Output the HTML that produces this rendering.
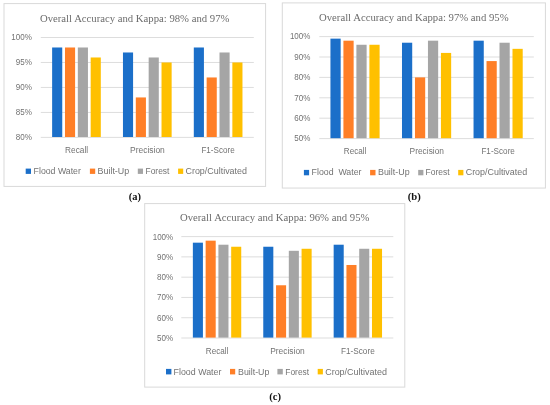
<!DOCTYPE html>
<html lang="en"><head><meta charset="utf-8"><title>Accuracy charts</title>
<style>
html,body{margin:0;padding:0;background:#fff;}
body{width:550px;height:405px;overflow:hidden;}
svg{display:block;}
</style></head><body>
<svg width="550" height="405" viewBox="0 0 550 405">
<rect width="550" height="405" fill="#fff"/>
<rect x="4" y="3.6" width="261.6" height="182.8" fill="#fff" stroke="#d9d9d9" stroke-width="1"/>
<text x="40" y="21.7" font-family='"Liberation Serif", serif' font-size="10.8" fill="#6c6c6c" textLength="189.4" lengthAdjust="spacingAndGlyphs">Overall Accuracy and Kappa: 98% and 97%</text>
<line x1="40.8" y1="137.4" x2="253.8" y2="137.4" stroke="#d9d9d9" stroke-width="0.9"/>
<text x="15.7" y="139.7" font-family='"Liberation Sans", sans-serif' font-size="8.3" fill="#727272" textLength="16.1" lengthAdjust="spacingAndGlyphs">80%</text>
<line x1="40.8" y1="112.43" x2="253.8" y2="112.43" stroke="#d9d9d9" stroke-width="0.9"/>
<text x="15.7" y="114.73" font-family='"Liberation Sans", sans-serif' font-size="8.3" fill="#727272" textLength="16.1" lengthAdjust="spacingAndGlyphs">85%</text>
<line x1="40.8" y1="87.45" x2="253.8" y2="87.45" stroke="#d9d9d9" stroke-width="0.9"/>
<text x="15.7" y="89.75" font-family='"Liberation Sans", sans-serif' font-size="8.3" fill="#727272" textLength="16.1" lengthAdjust="spacingAndGlyphs">90%</text>
<line x1="40.8" y1="62.47" x2="253.8" y2="62.47" stroke="#d9d9d9" stroke-width="0.9"/>
<text x="15.7" y="64.77" font-family='"Liberation Sans", sans-serif' font-size="8.3" fill="#727272" textLength="16.1" lengthAdjust="spacingAndGlyphs">95%</text>
<line x1="40.8" y1="37.5" x2="253.8" y2="37.5" stroke="#d9d9d9" stroke-width="0.9"/>
<text x="11.3" y="39.8" font-family='"Liberation Sans", sans-serif' font-size="8.3" fill="#727272" textLength="20.5" lengthAdjust="spacingAndGlyphs">100%</text>
<rect x="52.13" y="47.49" width="10.12" height="89.51" fill="#1b6fc9"/>
<rect x="64.98" y="47.49" width="10.12" height="89.51" fill="#ff7f27"/>
<rect x="77.83" y="47.49" width="10.12" height="89.51" fill="#a5a5a5"/>
<rect x="90.68" y="57.48" width="10.12" height="79.52" fill="#ffc000"/>
<rect x="122.96" y="52.48" width="10.12" height="84.52" fill="#1b6fc9"/>
<rect x="135.81" y="97.44" width="10.12" height="39.56" fill="#ff7f27"/>
<rect x="148.67" y="57.48" width="10.12" height="79.52" fill="#a5a5a5"/>
<rect x="161.52" y="62.47" width="10.12" height="74.53" fill="#ffc000"/>
<rect x="193.8" y="47.49" width="10.12" height="89.51" fill="#1b6fc9"/>
<rect x="206.65" y="77.46" width="10.12" height="59.54" fill="#ff7f27"/>
<rect x="219.5" y="52.48" width="10.12" height="84.52" fill="#a5a5a5"/>
<rect x="232.35" y="62.47" width="10.12" height="74.53" fill="#ffc000"/>
<text x="65.1" y="153" font-family='"Liberation Sans", sans-serif' font-size="8.3" fill="#727272" textLength="23" lengthAdjust="spacingAndGlyphs">Recall</text>
<text x="130" y="153" font-family='"Liberation Sans", sans-serif' font-size="8.3" fill="#727272" textLength="34.8" lengthAdjust="spacingAndGlyphs">Precision</text>
<text x="201.4" y="153" font-family='"Liberation Sans", sans-serif' font-size="8.3" fill="#727272" textLength="33.4" lengthAdjust="spacingAndGlyphs">F1-Score</text>
<rect x="25.7" y="168.6" width="5.3" height="5.3" fill="#1b6fc9"/>
<text x="33.6" y="173.9" font-family='"Liberation Sans", sans-serif' font-size="8.7" fill="#727272" textLength="47.3" lengthAdjust="spacingAndGlyphs" xml:space="preserve" style="white-space:pre">Flood Water</text>
<rect x="89.9" y="168.6" width="5.3" height="5.3" fill="#ff7f27"/>
<text x="97.6" y="173.9" font-family='"Liberation Sans", sans-serif' font-size="8.7" fill="#727272" textLength="31.6" lengthAdjust="spacingAndGlyphs" xml:space="preserve" style="white-space:pre">Built-Up</text>
<rect x="137.8" y="168.6" width="5.2" height="5.3" fill="#a5a5a5"/>
<text x="145.5" y="173.9" font-family='"Liberation Sans", sans-serif' font-size="8.7" fill="#727272" textLength="23.9" lengthAdjust="spacingAndGlyphs" xml:space="preserve" style="white-space:pre">Forest</text>
<rect x="178.1" y="168.6" width="5.1" height="5.3" fill="#ffc000"/>
<text x="185.5" y="173.9" font-family='"Liberation Sans", sans-serif' font-size="8.7" fill="#727272" textLength="61.5" lengthAdjust="spacingAndGlyphs" xml:space="preserve" style="white-space:pre">Crop/Cultivated</text>
<text x="128.8" y="199.8" font-family='"Liberation Serif", serif' font-size="10.7" font-weight="bold" fill="#111" textLength="12.2" lengthAdjust="spacingAndGlyphs">(a)</text>
<rect x="282.3" y="2.9" width="263.1" height="185.15" fill="#fff" stroke="#d9d9d9" stroke-width="1"/>
<text x="319" y="20.9" font-family='"Liberation Serif", serif' font-size="10.8" fill="#6c6c6c" textLength="189.6" lengthAdjust="spacingAndGlyphs">Overall Accuracy and Kappa: 97% and 95%</text>
<line x1="319.3" y1="138.6" x2="533.8" y2="138.6" stroke="#d9d9d9" stroke-width="0.9"/>
<text x="294.3" y="141.4" font-family='"Liberation Sans", sans-serif' font-size="8.3" fill="#727272" textLength="16.1" lengthAdjust="spacingAndGlyphs">50%</text>
<line x1="319.3" y1="118.2" x2="533.8" y2="118.2" stroke="#d9d9d9" stroke-width="0.9"/>
<text x="294.3" y="121" font-family='"Liberation Sans", sans-serif' font-size="8.3" fill="#727272" textLength="16.1" lengthAdjust="spacingAndGlyphs">60%</text>
<line x1="319.3" y1="97.8" x2="533.8" y2="97.8" stroke="#d9d9d9" stroke-width="0.9"/>
<text x="294.3" y="100.6" font-family='"Liberation Sans", sans-serif' font-size="8.3" fill="#727272" textLength="16.1" lengthAdjust="spacingAndGlyphs">70%</text>
<line x1="319.3" y1="77.4" x2="533.8" y2="77.4" stroke="#d9d9d9" stroke-width="0.9"/>
<text x="294.3" y="80.2" font-family='"Liberation Sans", sans-serif' font-size="8.3" fill="#727272" textLength="16.1" lengthAdjust="spacingAndGlyphs">80%</text>
<line x1="319.3" y1="57" x2="533.8" y2="57" stroke="#d9d9d9" stroke-width="0.9"/>
<text x="294.3" y="59.8" font-family='"Liberation Sans", sans-serif' font-size="8.3" fill="#727272" textLength="16.1" lengthAdjust="spacingAndGlyphs">90%</text>
<line x1="319.3" y1="36.6" x2="533.8" y2="36.6" stroke="#d9d9d9" stroke-width="0.9"/>
<text x="289.9" y="39.4" font-family='"Liberation Sans", sans-serif' font-size="8.3" fill="#727272" textLength="20.5" lengthAdjust="spacingAndGlyphs">100%</text>
<rect x="330.44" y="38.64" width="10.22" height="99.56" fill="#1b6fc9"/>
<rect x="343.42" y="40.68" width="10.22" height="97.52" fill="#ff7f27"/>
<rect x="356.4" y="44.76" width="10.22" height="93.44" fill="#a5a5a5"/>
<rect x="369.39" y="44.76" width="10.22" height="93.44" fill="#ffc000"/>
<rect x="401.99" y="42.72" width="10.22" height="95.48" fill="#1b6fc9"/>
<rect x="414.97" y="77.4" width="10.22" height="60.8" fill="#ff7f27"/>
<rect x="427.95" y="40.68" width="10.22" height="97.52" fill="#a5a5a5"/>
<rect x="440.94" y="52.92" width="10.22" height="85.28" fill="#ffc000"/>
<rect x="473.54" y="40.68" width="10.22" height="97.52" fill="#1b6fc9"/>
<rect x="486.52" y="61.08" width="10.22" height="77.12" fill="#ff7f27"/>
<rect x="499.5" y="42.72" width="10.22" height="95.48" fill="#a5a5a5"/>
<rect x="512.49" y="48.84" width="10.22" height="89.36" fill="#ffc000"/>
<text x="343.8" y="154" font-family='"Liberation Sans", sans-serif' font-size="8.3" fill="#727272" textLength="22.6" lengthAdjust="spacingAndGlyphs">Recall</text>
<text x="409.6" y="154" font-family='"Liberation Sans", sans-serif' font-size="8.3" fill="#727272" textLength="34.4" lengthAdjust="spacingAndGlyphs">Precision</text>
<text x="481.4" y="154" font-family='"Liberation Sans", sans-serif' font-size="8.3" fill="#727272" textLength="33.5" lengthAdjust="spacingAndGlyphs">F1-Score</text>
<rect x="303.9" y="169.9" width="5.2" height="5.4" fill="#1b6fc9"/>
<text x="311.6" y="175.3" font-family='"Liberation Sans", sans-serif' font-size="8.7" fill="#727272" textLength="49.9" lengthAdjust="spacingAndGlyphs" xml:space="preserve" style="white-space:pre">Flood  Water</text>
<rect x="370.1" y="169.9" width="5.4" height="5.4" fill="#ff7f27"/>
<text x="378" y="175.3" font-family='"Liberation Sans", sans-serif' font-size="8.7" fill="#727272" textLength="31.6" lengthAdjust="spacingAndGlyphs" xml:space="preserve" style="white-space:pre">Built-Up</text>
<rect x="418.2" y="169.9" width="5.2" height="5.4" fill="#a5a5a5"/>
<text x="425.5" y="175.3" font-family='"Liberation Sans", sans-serif' font-size="8.7" fill="#727272" textLength="24.1" lengthAdjust="spacingAndGlyphs" xml:space="preserve" style="white-space:pre">Forest</text>
<rect x="458.2" y="169.9" width="5.2" height="5.4" fill="#ffc000"/>
<text x="465.7" y="175.3" font-family='"Liberation Sans", sans-serif' font-size="8.7" fill="#727272" textLength="61.5" lengthAdjust="spacingAndGlyphs" xml:space="preserve" style="white-space:pre">Crop/Cultivated</text>
<text x="407.7" y="199.5" font-family='"Liberation Serif", serif' font-size="10.7" font-weight="bold" fill="#111" textLength="13" lengthAdjust="spacingAndGlyphs">(b)</text>
<rect x="144.7" y="203.6" width="260.1" height="183.5" fill="#fff" stroke="#d9d9d9" stroke-width="1"/>
<text x="180" y="220.9" font-family='"Liberation Serif", serif' font-size="10.8" fill="#6c6c6c" textLength="189.4" lengthAdjust="spacingAndGlyphs">Overall Accuracy and Kappa: 96% and 95%</text>
<line x1="181.3" y1="338" x2="393.3" y2="338" stroke="#d9d9d9" stroke-width="0.9"/>
<text x="157.1" y="340.9" font-family='"Liberation Sans", sans-serif' font-size="8.3" fill="#727272" textLength="16.1" lengthAdjust="spacingAndGlyphs">50%</text>
<line x1="181.3" y1="317.72" x2="393.3" y2="317.72" stroke="#d9d9d9" stroke-width="0.9"/>
<text x="157.1" y="320.62" font-family='"Liberation Sans", sans-serif' font-size="8.3" fill="#727272" textLength="16.1" lengthAdjust="spacingAndGlyphs">60%</text>
<line x1="181.3" y1="297.44" x2="393.3" y2="297.44" stroke="#d9d9d9" stroke-width="0.9"/>
<text x="157.1" y="300.34" font-family='"Liberation Sans", sans-serif' font-size="8.3" fill="#727272" textLength="16.1" lengthAdjust="spacingAndGlyphs">70%</text>
<line x1="181.3" y1="277.16" x2="393.3" y2="277.16" stroke="#d9d9d9" stroke-width="0.9"/>
<text x="157.1" y="280.06" font-family='"Liberation Sans", sans-serif' font-size="8.3" fill="#727272" textLength="16.1" lengthAdjust="spacingAndGlyphs">80%</text>
<line x1="181.3" y1="256.88" x2="393.3" y2="256.88" stroke="#d9d9d9" stroke-width="0.9"/>
<text x="157.1" y="259.78" font-family='"Liberation Sans", sans-serif' font-size="8.3" fill="#727272" textLength="16.1" lengthAdjust="spacingAndGlyphs">90%</text>
<line x1="181.3" y1="236.6" x2="393.3" y2="236.6" stroke="#d9d9d9" stroke-width="0.9"/>
<text x="152.7" y="239.5" font-family='"Liberation Sans", sans-serif' font-size="8.3" fill="#727272" textLength="20.5" lengthAdjust="spacingAndGlyphs">100%</text>
<rect x="192.86" y="242.68" width="10.06" height="94.92" fill="#1b6fc9"/>
<rect x="205.64" y="240.66" width="10.06" height="96.94" fill="#ff7f27"/>
<rect x="218.41" y="244.71" width="10.06" height="92.89" fill="#a5a5a5"/>
<rect x="231.18" y="246.74" width="10.06" height="90.86" fill="#ffc000"/>
<rect x="263.26" y="246.74" width="10.06" height="90.86" fill="#1b6fc9"/>
<rect x="276.04" y="285.27" width="10.06" height="52.33" fill="#ff7f27"/>
<rect x="288.81" y="250.8" width="10.06" height="86.8" fill="#a5a5a5"/>
<rect x="301.58" y="248.77" width="10.06" height="88.83" fill="#ffc000"/>
<rect x="333.66" y="244.71" width="10.06" height="92.89" fill="#1b6fc9"/>
<rect x="346.44" y="264.99" width="10.06" height="72.61" fill="#ff7f27"/>
<rect x="359.21" y="248.77" width="10.06" height="88.83" fill="#a5a5a5"/>
<rect x="371.98" y="248.77" width="10.06" height="88.83" fill="#ffc000"/>
<text x="205.8" y="353.8" font-family='"Liberation Sans", sans-serif' font-size="8.3" fill="#727272" textLength="22.6" lengthAdjust="spacingAndGlyphs">Recall</text>
<text x="270.2" y="353.8" font-family='"Liberation Sans", sans-serif' font-size="8.3" fill="#727272" textLength="34.6" lengthAdjust="spacingAndGlyphs">Precision</text>
<text x="340.9" y="353.8" font-family='"Liberation Sans", sans-serif' font-size="8.3" fill="#727272" textLength="33.9" lengthAdjust="spacingAndGlyphs">F1-Score</text>
<rect x="166" y="368.9" width="5.4" height="5.5" fill="#1b6fc9"/>
<text x="173.6" y="374.6" font-family='"Liberation Sans", sans-serif' font-size="8.7" fill="#727272" textLength="47.8" lengthAdjust="spacingAndGlyphs" xml:space="preserve" style="white-space:pre">Flood Water</text>
<rect x="230" y="368.9" width="5.2" height="5.5" fill="#ff7f27"/>
<text x="238" y="374.6" font-family='"Liberation Sans", sans-serif' font-size="8.7" fill="#727272" textLength="31.4" lengthAdjust="spacingAndGlyphs" xml:space="preserve" style="white-space:pre">Built-Up</text>
<rect x="277.4" y="368.9" width="5.4" height="5.5" fill="#a5a5a5"/>
<text x="285.3" y="374.6" font-family='"Liberation Sans", sans-serif' font-size="8.7" fill="#727272" textLength="23.8" lengthAdjust="spacingAndGlyphs" xml:space="preserve" style="white-space:pre">Forest</text>
<rect x="317.7" y="368.9" width="5.2" height="5.5" fill="#ffc000"/>
<text x="325.2" y="374.6" font-family='"Liberation Sans", sans-serif' font-size="8.7" fill="#727272" textLength="61.7" lengthAdjust="spacingAndGlyphs" xml:space="preserve" style="white-space:pre">Crop/Cultivated</text>
<text x="269.2" y="399.5" font-family='"Liberation Serif", serif' font-size="10.7" font-weight="bold" fill="#111" textLength="11.8" lengthAdjust="spacingAndGlyphs">(c)</text>
</svg>
</body></html>
